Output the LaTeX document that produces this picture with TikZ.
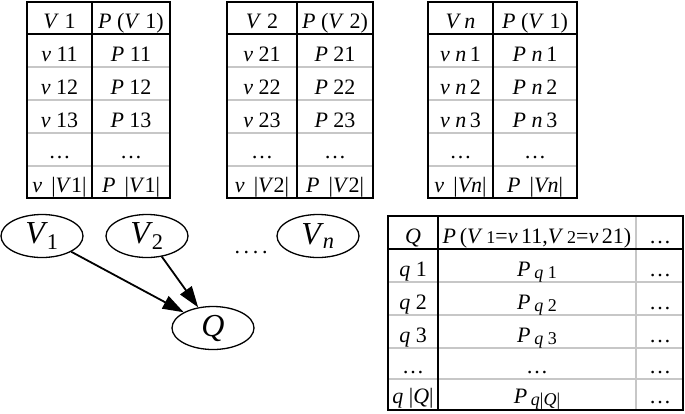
\documentclass[tikz,border=0pt]{standalone}
\usepackage{fontspec}
\setmainfont{Liberation Serif}
\usepackage{tikz}
\usetikzlibrary{arrows.meta,shapes.geometric}
\newcommand{\smtxt}[1]{{\fontsize{18}{18}\selectfont #1}}
\begin{document}
\begin{tikzpicture}[x=1pt,y=-1pt,>={Triangle[length=21pt,width=14pt]},
  font=\fontsize{22}{26}\selectfont,
  frame/.style={line width=2.5pt},
  rowline/.style={line width=1.8pt,black!22},
  cell/.style={anchor=base,inner sep=0pt},
  var/.style={draw,ellipse,line width=1.3pt,minimum width=82pt,minimum height=43pt,
    inner sep=0pt,font=\fontsize{32}{32}\selectfont}]
\useasboundingbox (0,0) rectangle (685,413);
\foreach \tb/\xl/\xm/\xr/\idx/\hv/\hp/\nv in
  {1/27/92/170/1/{\textit{V} 1}/{\textit{P} (\textit{V} 1)}/{\textit{V}1},
   2/227/297/373/2/{\textit{V} 2}/{\textit{P} (\textit{V} 2)}/{\textit{V}2},
   n/428/493/577/{\textit{n}\,}/{\textit{V n}}/{\textit{P} (\textit{V} 1)}/{\textit{Vn}}} {
  \foreach \y in {67,100,133,166}
    \draw[rowline] (\xl,\y) -- (\xr,\y);
  \draw[frame] (\xl,2) rectangle (\xr,198) (\xm,2) -- (\xm,198) (\xl,34) -- (\xr,34);
  \node[cell] (hv\tb) at ({(\xl+\xm)/2},28) {\hv};
  \node[cell] (hp\tb) at ({(\xm+\xr)/2},28) {\hp};
  \foreach \r/\y in {1/61,2/94,3/127} {
    \node[cell] (v\tb\r) at ({(\xl+\xm)/2},\y) {\textit{v} \idx\r};
    \node[cell] (p\tb\r) at ({(\xm+\xr)/2},\y) {\textit{P} \idx\r};
  }
  \node[cell] (dv\tb) at ({(\xl+\xm)/2},158) {\dots};
  \node[cell] (dp\tb) at ({(\xm+\xr)/2},158) {\dots};
  \node[cell] (lv\tb) at ({(\xl+\xm)/2},192) {\textit{v}~\,|\nv|};
  \node[cell] (lp\tb) at ({(\xm+\xr)/2},192) {\textit{P}~\,|\nv|};
}
\node[var] (V1) at (42,236) {\textit{V}\kern-1pt\textsubscript{1}};
\node[var] (V2) at (147,236) {\textit{V}\kern-1pt\textsubscript{2}};
\node[cell] (gap) at (251,253) {.\,.\,.\,.};
\node[var] (Vn) at (318,236) {\textit{V}\kern-1pt\textsubscript{\textit{n}}};
\node[var] (Q) at (213,328) {\textit{Q}};
\draw[->,line width=1.8pt] (V1) -- (Q);
\draw[->,line width=1.8pt] (V2) -- (Q);
\foreach \y in {282,315,348,379}
  \draw[rowline] (388,\y) -- (683,\y);
\draw[rowline] (636,216) -- (636,410);
\draw[frame] (388,216) rectangle (683,410) (438,216) -- (438,410) (388,249) -- (683,249);
\node[cell] (qh) at (413,243) {\textit{Q}};
\node[cell] (pqh) at (537,243)
  {\textit{P}\,(\textit{V}\,\smtxt{1}=\textit{v}\,11,\textit{V}\,\smtxt{2}=\textit{v}\,21)};
\node[cell] (xh) at (660,243) {\dots};
\foreach \r/\y in {1/276,2/309,3/342} {
  \node[cell] (q\r) at (413,\y) {\textit{q} \r};
  \node[cell] (pq\r) at (537,\y) {\textit{P}\,\raisebox{-2pt}{\smtxt{\textit{q} \r}}};
  \node[cell] (x\r) at (660,\y) {\dots};
}
\node[cell] (qd) at (413,373) {\dots};
\node[cell] (pqd) at (537,373) {\dots};
\node[cell] (xd) at (660,373) {\dots};
\node[cell] (ql) at (413,403) {\textit{q}~|\textit{Q}|};
\node[cell] (pql) at (537,403) {\textit{P}\,\raisebox{-2pt}{\smtxt{\textit{q}|\textit{Q}|}}};
\node[cell] (xl) at (660,403) {\dots};
\end{tikzpicture}
\end{document}
